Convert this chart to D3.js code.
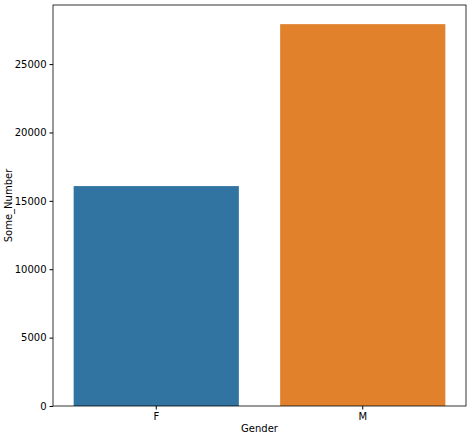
<!DOCTYPE html>
<html><head><meta charset="utf-8">
<script src="https://cdn.jsdelivr.net/npm/d3@7"></script>
<style>body{margin:0;background:#fff}text{font-family:"DejaVu Sans",sans-serif}</style>
</head><body><svg id="c" width="474" height="441"></svg>
<script>
// valores
var genders = ["F", "M"];
var numbers = [16080, 27920];
var colors = ["#3274a1", "#e1812c"];
var yTicks = [0, 5000, 10000, 15000, 20000, 25000];

var m = {left: 53, right: 466, top: 5, bottom: 406};
var svg = d3.select("#c");
var x = d3.scaleBand().domain(genders).range([m.left, m.right]).paddingInner(0.2).paddingOuter(0.1);
var y = d3.scaleLinear().domain([0, 29320]).range([m.bottom, m.top]);

svg.selectAll("rect.bar").data(genders).enter().append("rect")
	.attr("class", "bar")
	.attr("x", function(d){return x(d);})
	.attr("width", x.bandwidth())
	.attr("y", function(d, i){return y(numbers[i]);})
	.attr("height", function(d, i){return m.bottom - y(numbers[i]);})
	.attr("fill", function(d, i){return colors[i];});

var gx = svg.append("g").attr("transform", "translate(0," + m.bottom + ")")
	.call(d3.axisBottom(x).tickSize(3.5).tickSizeOuter(0));
var gy = svg.append("g").attr("transform", "translate(" + m.left + ",0)")
	.call(d3.axisLeft(y).tickValues(yTicks).tickFormat(d3.format("d")).tickSize(3.5).tickSizeOuter(0));
[gx, gy].forEach(function(g){
	g.selectAll("text").attr("font-size", 10).attr("fill", "#000").style("font-family", "DejaVu Sans");
	g.selectAll("line").attr("stroke", "#000");
	g.select(".domain").remove();
});
svg.append("rect").attr("x", m.left).attr("y", m.top)
	.attr("width", m.right - m.left).attr("height", m.bottom - m.top)
	.attr("fill", "none").attr("stroke", "#000").attr("stroke-width", 0.8);

svg.append("text").attr("x", (m.left + m.right) / 2).attr("y", 432)
	.attr("text-anchor", "middle").attr("font-size", 10).text("Gender");
svg.append("text").attr("transform", "translate(12," + (m.top + m.bottom) / 2 + ") rotate(-90)")
	.attr("text-anchor", "middle").attr("font-size", 10).text("Some_Number");
</script></body></html>
